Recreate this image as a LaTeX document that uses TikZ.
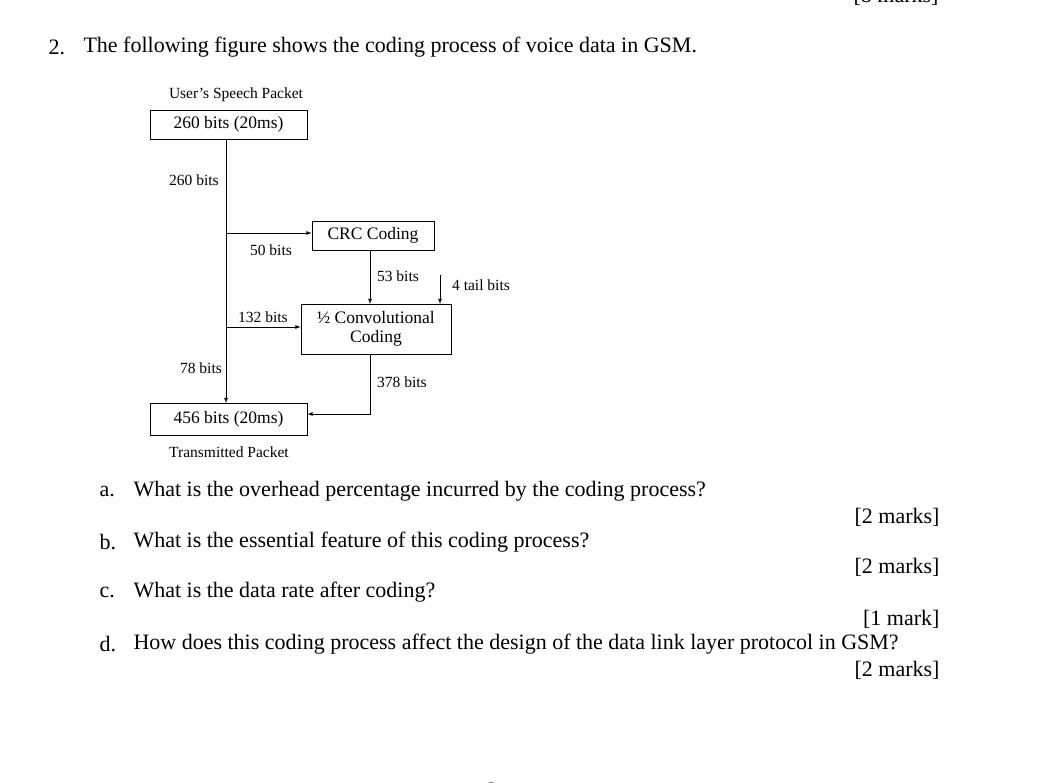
\documentclass[tikz,border=0pt]{standalone}
\usepackage{fontspec}
\setmainfont{Liberation Serif}
\begin{document}
\begin{tikzpicture}[x=1pt,y=-1pt,
  box/.style={draw,thick,inner sep=0pt},
  lbl/.style={font=\fontsize{15.5}{18}\selectfont},
  bt/.style={font=\fontsize{17.5}{20}\selectfont},
  q/.style={font=\fontsize{22}{25}\selectfont,anchor=west},
  mk/.style={font=\fontsize{22}{25}\selectfont,anchor=east},
  arr/.style={thick,-latex}]
\useasboundingbox (0,0) rectangle (1040,782);
\clip (0,0) rectangle (1040,782);
\node[mk] (m8) at (942,-4) {[8 marks]};
\node[q] (n2) at (45,47) {2.};
\node[q] (title) at (80,47) {The following figure shows the coding process of voice data in GSM.};
% diagram
\node[box,minimum width=157pt,minimum height=29pt,bt] (top) at (228.5,124.5) {260 bits (20ms)};
\node[lbl] (usp) at (236,95) {User’s Speech Packet};
\node[box,minimum width=157pt,minimum height=32pt,bt] (bot) at (228.5,419) {456 bits (20ms)};
\node[lbl] (tp) at (229,452) {Transmitted Packet};
\node[box,minimum width=122pt,minimum height=29pt,bt] (crc) at (373,235.5) {CRC Coding};
\node[box,minimum width=150pt,minimum height=50pt,align=center,bt] (conv) at (376,329) {½ Convolutional\\[-1pt]Coding};
\coordinate (s1) at (226,233);
\coordinate (s2) at (226,327);
\coordinate (t4) at (440,275);
\coordinate (c378) at (370,414);
\draw[arr] (226,139) -- (226,403);
\draw[arr] (s1) -- (crc.west|-s1);
\draw[arr] (s2) -- (conv.west|-s2);
\draw[arr] (370,250) -- (370,304);
\draw[arr] (t4) -- (440,304);
\draw[arr] (370,354) -- (c378) -- (bot.east|-c378);
\node[lbl] at (194,180) {260 bits};
\node[lbl] at (271,250) {50 bits};
\node[lbl] at (398,276) {53 bits};
\node[lbl] at (481,285) {4 tail bits};
\node[lbl] at (263,317) {132 bits};
\node[lbl] at (201,368) {78 bits};
\node[lbl] at (402,382) {378 bits};
% questions
\node[q] (la) at (96,491) {a.};
\node[q] (qa) at (130,491) {What is the overhead percentage incurred by the coding process?};
\node[mk] (ma) at (943,517) {[2 marks]};
\node[q] (lb) at (96,542) {b.};
\node[q] (qb) at (130,542) {What is the essential feature of this coding process?};
\node[mk] (mb) at (943,567) {[2 marks]};
\node[q] (lc) at (96,592) {c.};
\node[q] (qc) at (130,592) {What is the data rate after coding?};
\node[mk] (mc) at (943,619) {[1 mark]};
\node[q] (ld) at (96,644) {d.};
\node[q] (qd) at (130,644) {How does this coding process affect the design of the data link layer protocol in GSM?};
\node[mk] (md) at (943,670) {[2 marks]};
\node[font=\fontsize{22}{25}\selectfont] (pg) at (492,790) {2};
\end{tikzpicture}
\end{document}
